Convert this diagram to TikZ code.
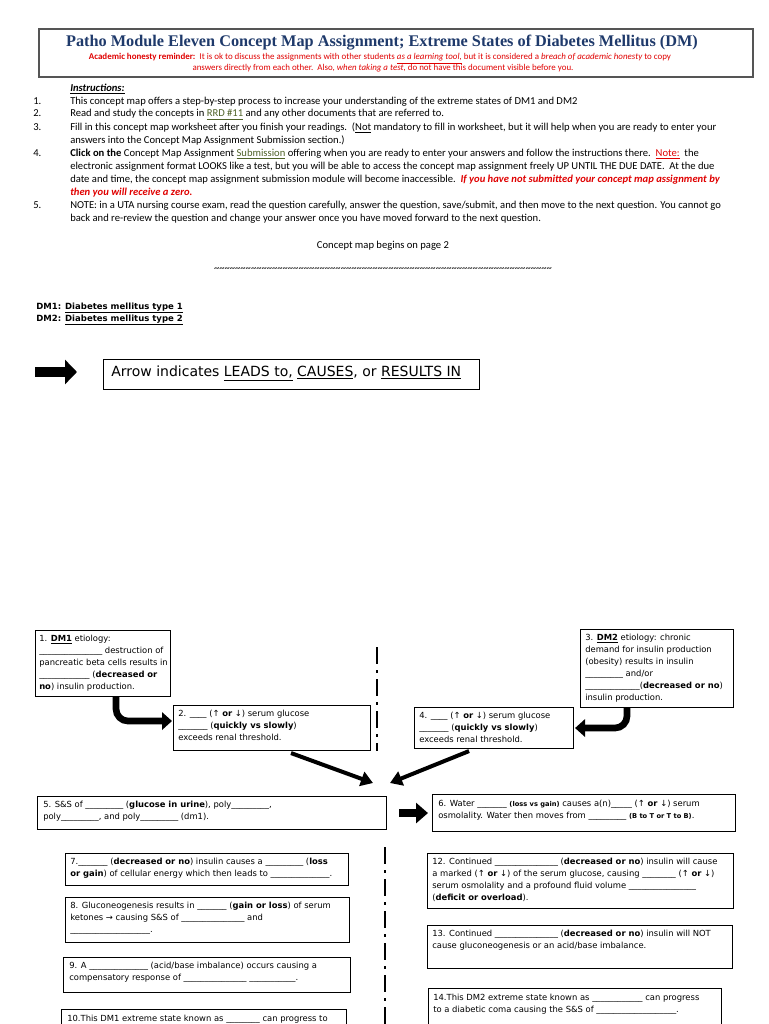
\documentclass[tikz,border=0pt]{standalone}
\usepackage{fontspec}
\setmainfont{Carlito}
\newfontfamily\bxf{DejaVu Sans}
\newfontfamily\ttlf{Liberation Serif}
\usetikzlibrary{arrows.meta}
\definecolor{navy}{HTML}{1F3A6B}
\definecolor{redt}{HTML}{E00000}
\definecolor{grn}{HTML}{4F6228}
\definecolor{bordergray}{HTML}{555555}
\newcount\ubcnt
\newcommand\ublank[1]{\ubcnt=#1\relax\loop\ifnum\ubcnt>0 \_\advance\ubcnt by -1\relax\repeat}
\newcommand\tildes[1]{\ubcnt=#1\relax\loop\ifnum\ubcnt>0 \textasciitilde\advance\ubcnt by -1\relax\repeat}
\tikzset{
  ins/.style={anchor=base west, inner sep=0pt, font=\fontsize{7.95}{9.75}\selectfont},
  redl/.style={anchor=base, inner sep=0pt, text=redt, font=\fontsize{6.7}{8}\selectfont},
  box/.style={draw=black, line width=0.8pt, anchor=north west, inner sep=0pt},
  btxt/.style={anchor=north west, inner sep=0pt, align=left, font=\bxf\fontsize{6.3}{9}\selectfont},
  fat/.style={line width=5pt, -{Triangle[length=7.5pt,width=13pt]}},
  diag/.style={line width=3pt, -{Triangle[length=9pt,width=11pt]}},
  block/.style={line width=6.5pt, -{Triangle[length=9pt,width=15pt]}},
  dashdot/.style={line width=1.6pt, dash pattern=on 12.75pt off 4.5pt on 2.25pt off 4.5pt},
}
\begin{document}
\begin{tikzpicture}[x=0.75pt,y=-0.75pt]
\fill[white] (0,0) rectangle (768,1024);
\useasboundingbox (0,0) rectangle (768,1024);

% title box
\node[draw=bordergray, line width=1.2pt, minimum width=535.5pt, minimum height=36pt, anchor=north west, inner sep=0pt] (tb) at (38,28) {};
\node[anchor=base, inner sep=0pt, text=navy, font=\ttlf\bfseries\fontsize{12.2}{14}\selectfont] (title) at (382,47) {Patho Module Eleven Concept Map Assignment; Extreme States of Diabetes Mellitus (DM)};
\node[redl] (red1) at (380,60) {\textbf{Academic honesty reminder:}\ \ It is ok to discuss the assignments with other students \underline{\itshape as a learning tool,} but it is considered a {\itshape breach of academic honesty} to copy};
\node[redl] (red2) at (383,71) {answers directly from each other.\ \ Also, {\itshape when taking a test,} do not have this document visible before you.};

% instructions
\node[ins] (ih) at (70,91) {\textbf{\textit{\underline{Instructions:}}}};
\node[ins] (n1) at (33,104) {1.};
\node[ins] (i1) at (70,104) {This concept map offers a step-by-step process to increase your understanding of the extreme states of DM1 and DM2};
\node[ins] (n2) at (33,117) {2.};
\node[ins] (i2) at (70,117) {Read and study the concepts in \textcolor{grn}{\underline{RRD \#11}} and any other documents that are referred to.};
\node[ins] (n3) at (33,130) {3.};
\node[ins] (i3) at (70,130) {Fill in this concept map worksheet after you finish your readings.\ \ (\underline{Not} mandatory to fill in worksheet, but it will help when you are ready to enter your};
\node[ins] (i3b) at (70,143) {answers into the Concept Map Assignment Submission section.)};
\node[ins] (n4) at (33,156) {4.};
\node[ins] (i4) at (70,156) {\textbf{Click on the} Concept Map Assignment \textcolor{grn}{\underline{Submission}} offering when you are ready to enter your answers and follow the instructions there.\ \ \textcolor{redt}{\underline{Note:}}\ \ the};
\node[ins] (i4b) at (70,169) {electronic assignment format LOOKS like a test, but you will be able to access the concept map assignment freely UP UNTIL THE DUE DATE.\ \ At the due};
\node[ins] (i4c) at (70,182) {date and time, the concept map assignment submission module will become inaccessible.\ \ \textcolor{redt}{\bfseries\itshape If you have not submitted your concept map assignment by}};
\node[ins] (i4d) at (70,195) {\textcolor{redt}{\bfseries\itshape then you will receive a zero.}};
\node[ins] (n5) at (33,208) {5.};
\node[ins] (i5) at (70,208) {NOTE: in a UTA nursing course exam, read the question carefully, answer the question, save/submit, and then move to the next question. You cannot go};
\node[ins] (i5b) at (70,221) {back and re-review the question and change your answer once you have moved forward to the next question.};
\node[ins, anchor=base] (cmb) at (383,248) {Concept map begins on page 2};
\node[ins, anchor=base] (tl) at (383,271) {\tildes{64}};

% DM definitions
\node[anchor=base west, inner sep=0pt, font=\bxf\bfseries\fontsize{6.4}{8}\selectfont] (dm1) at (36,309) {DM1: \underline{Diabetes mellitus type 1}};
\node[anchor=base west, inner sep=0pt, font=\bxf\bfseries\fontsize{6.4}{8}\selectfont] (dm2) at (36,321) {DM2: \underline{Diabetes mellitus type 2}};

% legend
\coordinate (la0) at (35,372);
\coordinate (la1) at (77,372);
\draw[line width=7.5pt, -{Triangle[length=9pt,width=18pt]}] (la0) -- (la1);
\node[box, minimum width=282pt, minimum height=22.5pt] (lb) at (103,359) {};
\node[anchor=west, inner sep=0pt, font=\bxf\fontsize{10.5}{13}\selectfont] (lt) at (111,373.5) {Arrow indicates \underline{LEADS to,} \underline{CAUSES}, or \underline{RESULTS IN}};

% boxes
\node[box, minimum width=101.25pt, minimum height=49.5pt] (b1) at (35,630) {};
\node[btxt] (t1) at ([shift={(4,5)}]b1.north west) {1. \underline{\textbf{DM1}} etiology:\\\ublank{15} destruction of\\pancreatic beta cells results in\\\ublank{12} (\textbf{decreased or}\\\textbf{no}) insulin production.};

\node[box, minimum width=147.75pt, minimum height=33.75pt] (b2) at (173,705) {};
\node[btxt] (t2) at ([shift={(5,5)}]b2.north west) {2. \ublank{4} (↑ \textbf{or} ↓) serum glucose\\\ublank{7} (\textbf{quickly vs slowly})\\exceeds renal threshold.};

\node[box, minimum width=114.75pt, minimum height=58.5pt] (b3) at (580,629) {};
\node[btxt] (t3) at ([shift={(5,5)}]b3.north west) {3. \underline{\textbf{DM2}} etiology: chronic\\demand for insulin production\\(obesity) results in insulin\\\ublank{9} and/or\\\ublank{13}(\textbf{decreased or no})\\insulin production.};

\node[box, minimum width=119.25pt, minimum height=30.75pt] (b4) at (414,707) {};
\node[btxt] (t4) at ([shift={(5,5)}]b4.north west) {4. \ublank{4} (↑ \textbf{or} ↓) serum glucose\\\ublank{7} (\textbf{quickly vs slowly})\\exceeds renal threshold.};

\node[box, minimum width=261.75pt, minimum height=24.75pt] (b5) at (37,796) {};
\node[btxt] (t5) at ([shift={(6,5)}]b5.north west) {5. S\&S of \ublank{9} (\textbf{glucose in urine}), poly\ublank{9},\\poly\ublank{9}, and poly\ublank{9} (dm1).};

\node[box, minimum width=227.25pt, minimum height=27.75pt] (b6) at (432,794) {};
\node[btxt] (t6) at ([shift={(6,6)}]b6.north west) {6. Water \ublank{7} {\fontsize{5}{9}\selectfont\textbf{(loss vs gain)}} causes a(n)\ublank{5} (↑ \textbf{or} ↓) serum\\osmolality. Water then moves from \ublank{9} {\fontsize{5}{9}\selectfont\textbf{(B to T or T to B)}}.};

\node[box, minimum width=212.25pt, minimum height=24pt] (b7) at (65,853) {};
\node[btxt] (t7) at ([shift={(5,5)}]b7.north west) {7.\ublank{7} (\textbf{decreased or no}) insulin causes a \ublank{9} (\textbf{loss}\\\textbf{or gain}) of cellular energy which then leads to \ublank{14}.};

\node[box, minimum width=213pt, minimum height=33.75pt] (b8) at (65,897) {};
\node[btxt] (t8) at ([shift={(5,5)}]b8.north west) {8. Gluconeogenesis results in \ublank{7} (\textbf{gain or loss}) of serum\\ketones → causing S\&S of \ublank{15} and\\\ublank{19}.};

\node[box, minimum width=215.25pt, minimum height=26.25pt] (b9) at (63,957) {};
\node[btxt] (t9) at ([shift={(6,5)}]b9.north west) {9. A \ublank{14} (acid/base imbalance) occurs causing a\\compensatory response of \ublank{15} \ublank{11}.};

\node[box, minimum width=213.75pt, minimum height=30pt] (b10) at (61,1009) {};
\node[btxt] (t10) at ([shift={(6,6)}]b10.north west) {10.This DM1 extreme state known as \ublank{8} can progress to};

\node[box, minimum width=229.5pt, minimum height=41.25pt] (b12) at (427,853) {};
\node[btxt] (t12) at ([shift={(5,5)}]b12.north west) {12. Continued \ublank{15} (\textbf{decreased or no}) insulin will cause\\a marked (↑ \textbf{or} ↓) of the serum glucose, causing \ublank{8} (↑ \textbf{or} ↓)\\serum osmolality and a profound fluid volume \ublank{16}\\(\textbf{deficit or overload}).};

\node[box, minimum width=228.75pt, minimum height=32.25pt] (b13) at (427,925) {};
\node[btxt] (t13) at ([shift={(5,5)}]b13.north west) {13. Continued \ublank{15} (\textbf{decreased or no}) insulin will NOT\\cause gluconeogenesis or an acid/base imbalance.};

\node[box, minimum width=219.75pt, minimum height=37.5pt] (b14) at (428,988) {};
\node[btxt] (t14) at ([shift={(5,6)}]b14.north west) {14.This DM2 extreme state known as \ublank{12} can progress\\to a diabetic coma causing the S\&S of \ublank{19}.};

% connectors
\draw[fat, rounded corners=9pt] ([shift={(13,0)}]b1.south) |- ([shift={(-1,-7)}]b2.west);
\draw[fat, rounded corners=9pt] ([shift={(-30,0)}]b3.south) |- ([shift={(1,0)}]b4.east);
\coordinate (m1) at (373,783);
\coordinate (m2) at (390,783);
\draw[diag] ([shift={(19,2)}]b2.south) -- (m1);
\draw[diag] ([shift={(-25,2)}]b4.south) -- (m2);
\draw[block, shorten <=9pt, shorten >=3pt] (b5.east) -- (b6.west);

% separators
\coordinate (s1a) at (377,647);
\coordinate (s1b) at (377,751);
\draw[dashdot] (s1a) -- (s1b);
\coordinate (s2a) at (385,847);
\coordinate (s2b) at (385,1030);
\draw[dashdot] (s2a) -- (s2b);
\end{tikzpicture}
\end{document}
